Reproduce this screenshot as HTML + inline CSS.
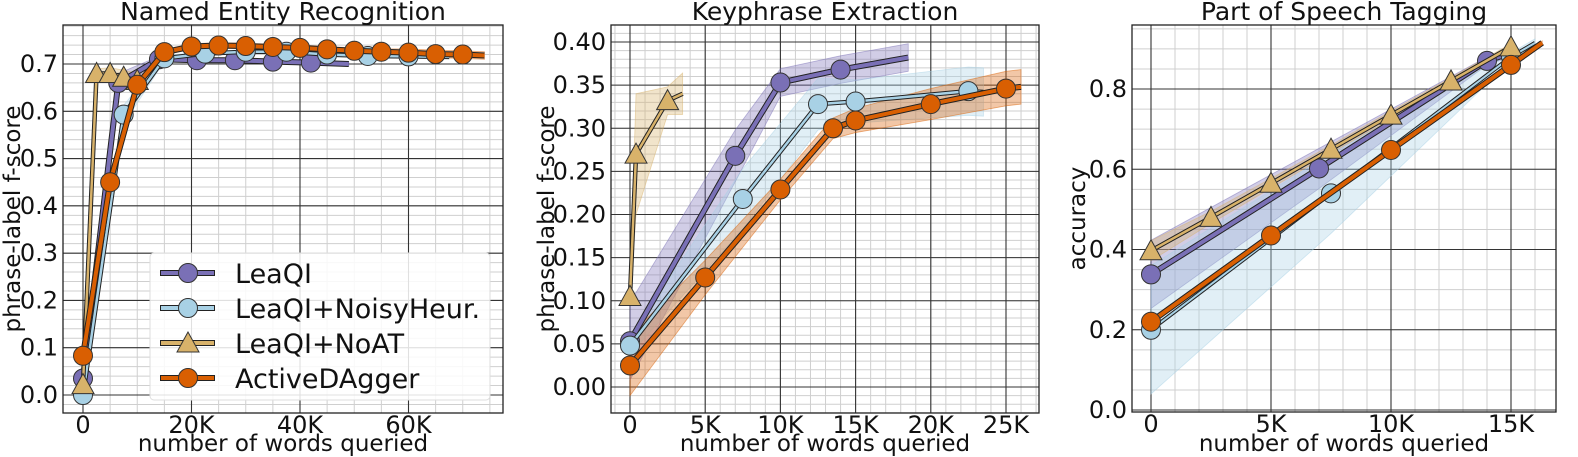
<!DOCTYPE html>
<html><head><meta charset="utf-8">
<style>
html,body{margin:0;padding:0;background:#fff;}
svg{display:block;font-family:"DejaVu Sans","Liberation Sans",sans-serif;}
</style></head>
<body>
<svg id="fig" width="1578" height="457" viewBox="0 0 1578 457" xmlns="http://www.w3.org/2000/svg"></svg>
<script>
// ---- Colors
const COLORS = {leaqi:"#7a70b6", noisy:"#a8d1e5", noat:"#d8b26a", dagger:"#d95f02"};
const seriesNames = ["LeaQI","LeaQI+NoisyHeur.","LeaQI+NoAT","ActiveDAgger"];

// ---- NER data
const nerLeaqiX = [0, 6500, 14000, 21000, 28000, 35000, 42000, 49000];
const nerLeaqiY = [0.035, 0.66, 0.71, 0.708, 0.708, 0.705, 0.703, 0.70];
const nerLeaqiE = [0.03, 0.02, 0.006, 0.004, 0.004, 0.004, 0.004, 0.004];
const nerNoisyX = [0, 7500, 15000, 22500, 30000, 37500, 45000, 52500, 60000, 67500];
const nerNoisyY = [0.0, 0.593, 0.712, 0.722, 0.726, 0.726, 0.72, 0.717, 0.716, 0.715];
const nerNoisyE = [0.01, 0.02, 0.006, 0.004, 0.004, 0.004, 0.004, 0.004, 0.004, 0.004];
const nerNoatX = [0, 2500, 5000, 7500, 10000];
const nerNoatY = [0.022, 0.68, 0.68, 0.672, 0.665];
const nerNoatE = [0.01, 0.01, 0.012, 0.015, 0.015];
const nerDaggerX = [0, 5000, 10000, 15000, 20000, 25000, 30000, 35000, 40000, 45000, 50000, 55000, 60000, 65000, 70000, 74000];
const nerDaggerY = [0.083, 0.45, 0.656, 0.725, 0.737, 0.739, 0.738, 0.736, 0.734, 0.731, 0.728, 0.726, 0.724, 0.721, 0.72, 0.718];
const nerDaggerE = [0.01, 0.02, 0.01, 0.006, 0.006, 0.006, 0.006, 0.006, 0.006, 0.006, 0.006, 0.006, 0.008, 0.008, 0.008, 0.008];

// ---- Keyphrase data
const kpLeaqiX = [0, 7000, 10000, 14000, 18500];
const kpLeaqiY = [0.053, 0.268, 0.353, 0.368, 0.382];
const kpLeaqiE = [0.045, 0.03, 0.016, 0.016, 0.016];
const kpNoisyX = [0, 7500, 12500, 15000, 22500, 23500];
const kpNoisyY = [0.048, 0.218, 0.328, 0.331, 0.343, 0.342];
const kpNoisyE = [0.01, 0.035, 0.03, 0.025, 0.028, 0.028];
const kpNoatX = [0, 400, 2500, 3500];
const kpNoatY = [0.105, 0.27, 0.332, 0.34];
const kpNoatE = [0.01, 0.07, 0.016, 0.024];
const kpDaggerX = [0, 5000, 10000, 13500, 15000, 20000, 25000, 26000];
const kpDaggerY = [0.025, 0.127, 0.229, 0.30, 0.309, 0.328, 0.346, 0.348];
const kpDaggerE = [0.035, 0.02, 0.012, 0.012, 0.014, 0.018, 0.02, 0.02];

// ---- POS data
const posLeaqiX = [0, 7000, 14000, 15000];
const posLeaqiY = [0.338, 0.602, 0.87, 0.89];
const posLeaqiE = [0.085, 0.05, 0.01, 0.01];
const posNoisyX = [0, 7500, 15000, 16000];
const posNoisyY = [0.2, 0.54, 0.88, 0.915];
const posNoisyE = [0.16, 0.1, 0.01, 0.01];
const posNoatX = [0, 2500, 5000, 7500, 10000, 12500, 15000];
const posNoatY = [0.397, 0.48, 0.565, 0.65, 0.735, 0.82, 0.905];
const posNoatE = [0.025, 0.015, 0.012, 0.01, 0.01, 0.008, 0.008];
const posDaggerX = [0, 5000, 10000, 15000, 16300];
const posDaggerY = [0.22, 0.435, 0.648, 0.86, 0.915];
const posDaggerE = [0.005, 0.005, 0.005, 0.005, 0.005];

// ---- Ticks
const nerXTicks = [0, 20000, 40000, 60000];
const nerXTickLabels = ["0","20K","40K","60K"];
const nerYTicks = [0,0.1,0.2,0.3,0.4,0.5,0.6,0.7];
const nerYTickLabels = ["0.0","0.1","0.2","0.3","0.4","0.5","0.6","0.7"];
const kpXTicks = [0,5000,10000,15000,20000,25000];
const kpXTickLabels = ["0","5K","10K","15K","20K","25K"];
const kpYTicks = [0,0.05,0.1,0.15,0.2,0.25,0.3,0.35,0.4];
const kpYTickLabels = ["0.00","0.05","0.10","0.15","0.20","0.25","0.30","0.35","0.40"];
const posXTicks = [0,5000,10000,15000];
const posXTickLabels = ["0","5K","10K","15K"];
const posYTicks = [0,0.2,0.4,0.6,0.8];
const posYTickLabels = ["0.0","0.2","0.4","0.6","0.8"];

const NS = "http://www.w3.org/2000/svg";
const svg = document.getElementById("fig");
function mk(tag, attrs, parent){
  const e = document.createElementNS(NS, tag);
  for (const k in attrs) e.setAttribute(k, attrs[k]);
  (parent||svg).appendChild(e);
  return e;
}
function linScale(d0,d1,r0,r1){ return v => r0 + (v-d0)/(d1-d0)*(r1-r0); }

function panel(cfg){
  const g = mk("g", {});
  
  
  const X = linScale(cfg.xd[0], cfg.xd[1], cfg.xr[0], cfg.xr[1]);
  const Y = linScale(cfg.yd[0], cfg.yd[1], cfg.yr[0], cfg.yr[1]);
  const L=cfg.box[0], T=cfg.box[1], R=cfg.box[2], B=cfg.box[3];
  const clipId = cfg.name+"-clip";
  const cp = mk("clipPath",{id:clipId},g);
  mk("rect",{x:L,y:T,width:R-L,height:B-T},cp);
  const grid = mk("g",{},g);
  
  
  for (let v = cfg.xMinorStart; v <= cfg.xMinorEnd + 1e-9; v += cfg.xMinor){
    const px = X(v); if (px<L||px>R) continue;
    mk("line",{x1:px,x2:px,y1:T,y2:B,stroke:"#cfcfcf","stroke-width":1},grid);
  }
  for (let v = cfg.yMinorStart; v <= cfg.yMinorEnd + 1e-9; v += cfg.yMinor){
    const py = Y(v); if (py<T||py>B) continue;
    mk("line",{x1:L,x2:R,y1:py,y2:py,stroke:"#cfcfcf","stroke-width":1},grid);
  }
  cfg.xTicks.forEach((v,i)=>{
    const px = X(v);
    mk("line",{x1:px,x2:px,y1:T,y2:B,stroke:"#333","stroke-width":1.1},grid);
    const t = mk("text",{x:px,y:B+20,"text-anchor":"middle","font-size":24,fill:"#111"},g);
    t.textContent = cfg.xTickLabels[i];
    
    
  });
  cfg.yTicks.forEach((v,i)=>{
    const py = Y(v);
    mk("line",{x1:L,x2:R,y1:py,y2:py,stroke:"#333","stroke-width":1.1},grid);
    const t = mk("text",{x:L-5,y:py+8,"text-anchor":"end","font-size":24,fill:"#111"},g);
    t.textContent = cfg.yTickLabels[i];
    
    
  });
  const plot = mk("g",{"clip-path":"url(#"+clipId+")"},g);
  cfg.series.forEach(s=>{
    const sg = mk("g",{},plot);
    
    
    let up = s.x.map((x,i)=>X(x)+","+Y(s.y[i]+s.e[i]));
    let dn = s.x.map((x,i)=>X(x)+","+Y(s.y[i]-s.e[i])).reverse();
    const band = mk("polygon",{points:up.concat(dn).join(" "),fill:s.color,"fill-opacity":0.35,stroke:s.color,"stroke-opacity":0.5,"stroke-width":0.8},sg);
    
    
  });
  cfg.series.forEach(s=>{
    const pts = s.x.map((x,i)=>X(x)+","+Y(s.y[i])).join(" ");
    const sg = mk("g",{},plot);
    
    
    mk("polyline",{points:pts,fill:"none",stroke:"#222","stroke-width":s.w+2,"stroke-linejoin":"round"},sg);
    mk("polyline",{points:pts,fill:"none",stroke:s.color,"stroke-width":s.w,"stroke-linejoin":"round"},sg);
    const n = s.markAll ? s.x.length : s.x.length-1;
    for (let i=0;i<n;i++){
      const m = marker(s.marker, X(s.x[i]), Y(s.y[i]), s.color, sg);
      
      
    }
  });
  mk("rect",{x:L,y:T,width:R-L,height:B-T,fill:"none",stroke:"#222","stroke-width":1.3},g);
  const title = mk("text",{x:(L+R)/2,y:20,"text-anchor":"middle","font-size":25,fill:"#111"},g);
  title.textContent = cfg.title;
  
  
  const xl = mk("text",{x:(L+R)/2,y:451,"text-anchor":"middle","font-size":23,fill:"#111"},g);
  xl.textContent = "number of words queried";
  
  
  const yl = mk("text",{x:0,y:0,"text-anchor":"middle","font-size":23,fill:"#111",transform:"translate("+cfg.ylx+","+((T+B)/2)+") rotate(-90)"},g);
  yl.textContent = cfg.ylabel;
  
  
  return g;
}
function marker(type,x,y,color,parent){
  if (type==="tri"){
    return mk("polygon",{points:(x)+","+(y-11)+" "+(x-11)+","+(y+9)+" "+(x+11)+","+(y+9),fill:color,stroke:"#333","stroke-width":1},parent);
  }
  return mk("circle",{cx:x,cy:y,r:9.5,fill:color,stroke:"#333","stroke-width":1},parent);
}

panel({name:"ner-chart", title:"Named Entity Recognition", ylabel:"phrase-label f-score", ylx:20,
  box:[63,25,503,413], xd:[0,20000], xr:[83,191.5], yd:[0,0.7], yr:[395,64],
  xMinor:5000, xMinorStart:-10000, xMinorEnd:80000, yMinor:0.02, yMinorStart:-0.06, yMinorEnd:0.8,
  xTicks:nerXTicks, xTickLabels:nerXTickLabels, yTicks:nerYTicks, yTickLabels:nerYTickLabels,
  series:[
    {key:"leaqi",x:nerLeaqiX,y:nerLeaqiY,e:nerLeaqiE,color:COLORS.leaqi,marker:"circ",w:4},
    {key:"noisy",x:nerNoisyX,y:nerNoisyY,e:nerNoisyE,color:COLORS.noisy,marker:"circ",w:2.5},
    {key:"noat",x:nerNoatX,y:nerNoatY,e:nerNoatE,color:COLORS.noat,marker:"tri",w:2.5,markAll:true},
    {key:"dagger",x:nerDaggerX,y:nerDaggerY,e:nerDaggerE,color:COLORS.dagger,marker:"circ",w:4}
  ]});
panel({name:"keyphrase-chart", title:"Keyphrase Extraction", ylabel:"phrase-label f-score", ylx:554,
  box:[611,25,1039,413], xd:[0,25000], xr:[630,1006], yd:[0,0.4], yr:[387,42],
  xMinor:1000, xMinorStart:-2000, xMinorEnd:28000, yMinor:0.01, yMinorStart:-0.04, yMinorEnd:0.43,
  xTicks:kpXTicks, xTickLabels:kpXTickLabels, yTicks:kpYTicks, yTickLabels:kpYTickLabels,
  series:[
    {key:"leaqi",x:kpLeaqiX,y:kpLeaqiY,e:kpLeaqiE,color:COLORS.leaqi,marker:"circ",w:4},
    {key:"noisy",x:kpNoisyX,y:kpNoisyY,e:kpNoisyE,color:COLORS.noisy,marker:"circ",w:2.5},
    {key:"noat",x:kpNoatX,y:kpNoatY,e:kpNoatE,color:COLORS.noat,marker:"tri",w:2.5},
    {key:"dagger",x:kpDaggerX,y:kpDaggerY,e:kpDaggerE,color:COLORS.dagger,marker:"circ",w:4}
  ]});
panel({name:"pos-chart", title:"Part of Speech Tagging", ylabel:"accuracy", ylx:1085,
  box:[1132,25,1556,412], xd:[0,15000], xr:[1151,1511], yd:[0,0.8], yr:[410,89],
  xMinor:1000, xMinorStart:-1000, xMinorEnd:18000, yMinor:0.05, yMinorStart:0, yMinorEnd:1.0,
  xTicks:posXTicks, xTickLabels:posXTickLabels, yTicks:posYTicks, yTickLabels:posYTickLabels,
  series:[
    {key:"leaqi",x:posLeaqiX,y:posLeaqiY,e:posLeaqiE,color:COLORS.leaqi,marker:"circ",w:4},
    {key:"noisy",x:posNoisyX,y:posNoisyY,e:posNoisyE,color:COLORS.noisy,marker:"circ",w:2},
    {key:"noat",x:posNoatX,y:posNoatY,e:posNoatE,color:COLORS.noat,marker:"tri",w:2.5,markAll:true},
    {key:"dagger",x:posDaggerX,y:posDaggerY,e:posDaggerE,color:COLORS.dagger,marker:"circ",w:4}
  ]});

// Legend
const lg = mk("g",{});


mk("rect",{x:150,y:253,width:340,height:147,rx:4,fill:"#fff","fill-opacity":0.85,stroke:"#ddd","stroke-width":1},lg);
const legColors = [COLORS.leaqi, COLORS.noisy, COLORS.noat, COLORS.dagger];
const legMarkers = ["circ","circ","tri","circ"];
seriesNames.forEach((nm,i)=>{
  const y = 273 + i*35;
  const e = mk("g",{},lg);
  
  
  mk("line",{x1:160,x2:215,y1:y,y2:y,stroke:"#222","stroke-width":6},e);
  mk("line",{x1:161,x2:214,y1:y,y2:y,stroke:legColors[i],"stroke-width":4},e);
  marker(legMarkers[i],188,y,legColors[i],e);
  const t = mk("text",{x:235,y:y+10,"font-size":27,fill:"#111"},e);
  t.textContent = nm;
});
</script>
</body></html>
